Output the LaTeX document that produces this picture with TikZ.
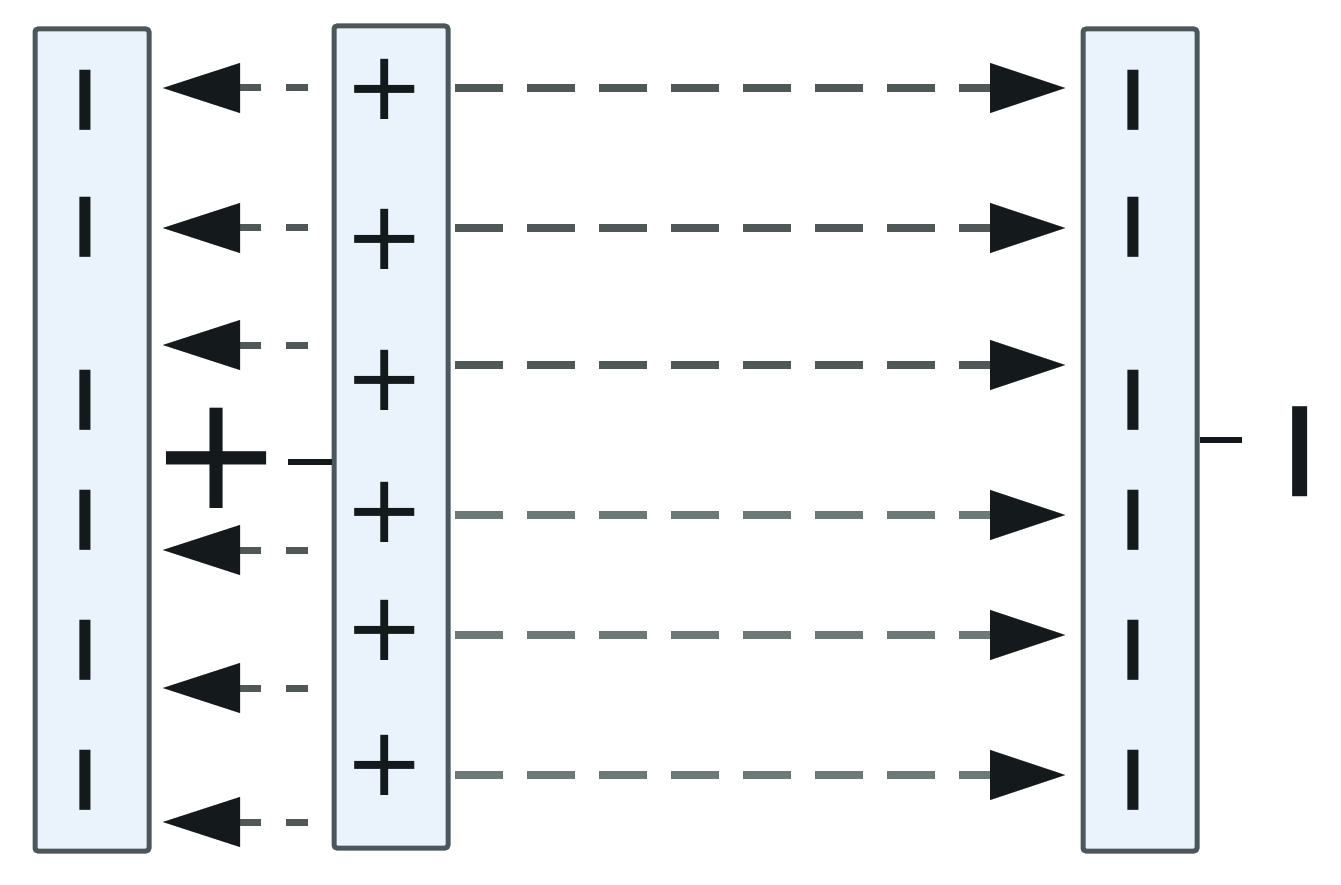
\documentclass[tikz,border=0pt]{standalone}
\usepackage{fontspec}
\newfontfamily\symfont{DejaVu Sans}
\newfontfamily\symbold{DejaVu Sans Bold}
\usetikzlibrary{arrows.meta}
\definecolor{platefill}{HTML}{EAF3FC}
\definecolor{plateborder}{HTML}{4A585C}
\definecolor{dashA}{HTML}{4F5757}
\definecolor{dashB}{HTML}{6D7977}
\definecolor{ink}{HTML}{141A1C}
\begin{document}
\begin{tikzpicture}[x=1pt,y=-1pt,
  plate/.style={draw=plateborder, fill=platefill, line width=5pt, rounded corners=3pt,
    minimum width=114pt, minimum height=822pt, inner sep=0pt},
  charge/.style={text=ink, inner sep=0pt, text depth=0pt},
  poscharge/.style={charge, text height=60pt, font=\symfont\fontsize{96}{96}\selectfont},
  negcharge/.style={charge, text height=60pt, font=\symbold\fontsize{96}{96}\selectfont, rotate=90},
  fieldR/.style={draw=dashA, line width=8pt, dash pattern=on 48pt off 24pt,
    -{Triangle[length=75pt,width=50pt,line width=0.1pt,color=ink]}},
  fieldL/.style={draw=dashA, line width=7pt, dash pattern=on 22pt off 25pt,
    -{Triangle[length=77pt,width=50pt,line width=0.1pt,color=ink]}},
  lead/.style={draw=ink, line width=5.5pt}
]
\useasboundingbox (0,0) rectangle (1341,885);
% plates
\node[plate] (lp) at (92,440) {};
\node[plate] (mp) at (391,437) {};
\node[plate] (rp) at (1140,440) {};
% negative charges
\foreach \i/\y in {1/100,2/227,3/400,4/520,5/650,6/780}{
  \node[negcharge] (ln\i) at (85,\y) {−};
  \node[negcharge] (rn\i) at (1133,\y) {−};
}
% positive charges
\foreach \i/\y in {1/90,2/240,3/380,4/512,5/630,6/765}{
  \node[poscharge] (mq\i) at (385,\y) {+};
}
% field arrows to the right
\foreach \i/\y/\c in {1/88/dashA,2/228/dashA,3/365/dashA,4/515/dashB,5/635/dashB,6/775/dashB}{
  \coordinate (rs\i) at (455,\y);
  \coordinate (re\i) at (1065,\y);
  \draw[fieldR, draw=\c] (rs\i) -- (re\i);
}
% field arrows to the left
\foreach \i/\y in {1/88,2/228,3/345,4/550,5/688,6/822}{
  \coordinate (ls\i) at (308,\y);
  \coordinate (le\i) at (163,\y);
  \draw[fieldL] (ls\i) -- (le\i);
}
% terminals
\node[charge, text height=100pt, font=\symfont\fontsize{160}{160}\selectfont] (tplus) at (217,458) {+};
\coordinate (tpl) at (288,462);
\draw[lead] (tpl) -- (tpl -| mp.west);
\node[charge, text height=68.4pt, text depth=21.2pt, xscale=1.5, font=\symbold\fontsize{90}{90}\selectfont] (tminus) at (1300,452) {|};
\coordinate (tmr) at (1242,440);
\draw[lead] (rp.east |- tmr) -- (tmr);
\end{tikzpicture}
\end{document}
